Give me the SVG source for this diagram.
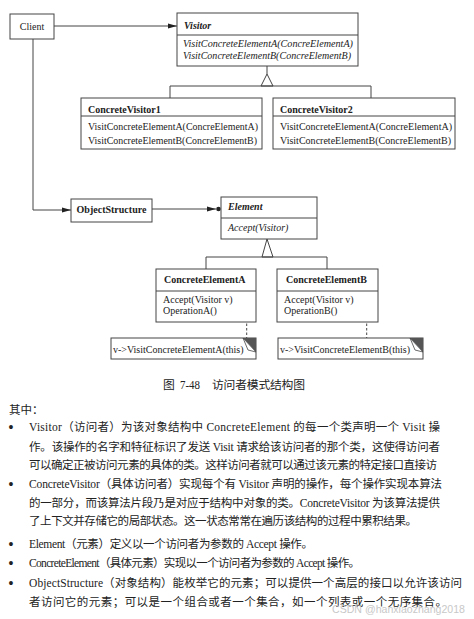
<svg xmlns="http://www.w3.org/2000/svg" width="474" height="619" viewBox="0 0 474 619">
<style>
.box{fill:#fff;stroke:#444;stroke-width:1}
.ln{fill:none;stroke:#444;stroke-width:1}
.t{font-family:"Liberation Serif","Times New Roman",serif;font-size:10px;fill:#222}
.b{font-weight:bold}
.i{font-style:italic}
.body{font-family:"Liberation Serif","Noto Sans CJK SC",serif;font-size:11.5px;fill:#222}
.bul{font-family:"Liberation Serif",serif;font-size:14px;font-weight:bold;fill:#222}
.cap{font-family:"Liberation Serif","Noto Sans CJK SC",serif;font-size:11.8px;fill:#222}
</style>
<defs>
<marker id="arr" markerUnits="userSpaceOnUse" markerWidth="9" markerHeight="6" refX="9" refY="3" orient="auto">
<path d="M0,0.5 L9,3 L0,5.5 Z" fill="#222"/>
</marker>
</defs>
<rect width="474" height="619" fill="#fff"/>
<g id="connectors">
<path class="ln" d="M54,26 H177" marker-end="url(#arr)"/>
<path class="ln" d="M33,39 V210 H71" marker-end="url(#arr)"/>
<path class="ln" d="M152,209 H216" marker-end="url(#arr)"/>
<circle cx="218.5" cy="209" r="2.3" fill="#222"/>
<path class="ln" d="M267,66 V74"/>
<path class="ln" d="M267,74 L261,86 L273,86 Z" fill="#fff"/>
<path class="ln" d="M170,98 V86 H371 V98"/>
<path class="ln" d="M267,239 L262,257 L273,257 Z" fill="#fff"/>
<path class="ln" d="M206,269 V257 H327 V269"/>
<circle cx="246.7" cy="299" r="2" fill="#fff" stroke="#444"/>
<path class="ln" d="M246.7,301 V338" stroke-dasharray="2.5,2"/>
<circle cx="366.7" cy="299" r="2" fill="#fff" stroke="#444"/>
<path class="ln" d="M366.7,301 V338" stroke-dasharray="2.5,2"/>
</g>
<g id="client">
<rect class="box" x="10" y="14" width="44" height="25"/>
<text class="t" x="32" y="29.5" text-anchor="middle">Client</text>
</g>
<g id="visitor">
<rect class="box" x="177" y="13" width="181" height="53"/>
<path class="ln" d="M177,35 H358"/>
<text class="t b i" x="184" y="28.5">Visitor</text>
<text class="t i" x="183" y="47" textLength="170" lengthAdjust="spacingAndGlyphs">VisitConcreteElementA(ConcreElementA)</text>
<text class="t i" x="183" y="58.5" textLength="168" lengthAdjust="spacingAndGlyphs">VisitConcreteElementB(ConcreElementB)</text>
</g>
<g id="concretevisitor1">
<rect class="box" x="81" y="98" width="181" height="51"/>
<path class="ln" d="M81,116 H262"/>
<text class="t b" x="88" y="112.5">ConcreteVisitor1</text>
<text class="t" x="88" y="129.5" textLength="170" lengthAdjust="spacingAndGlyphs">VisitConcreteElementA(ConcreElementA)</text>
<text class="t" x="88" y="143.5" textLength="169" lengthAdjust="spacingAndGlyphs">VisitConcreteElementB(ConcreElementB)</text>
</g>
<g id="concretevisitor2">
<rect class="box" x="273" y="98" width="182" height="51"/>
<path class="ln" d="M273,116 H455"/>
<text class="t b" x="280" y="112.5">ConcreteVisitor2</text>
<text class="t" x="280" y="129.5" textLength="172" lengthAdjust="spacingAndGlyphs">VisitConcreteElementA(ConcreElementA)</text>
<text class="t" x="280" y="143.5" textLength="171" lengthAdjust="spacingAndGlyphs">VisitConcreteElementB(ConcreElementB)</text>
</g>
<g id="objectstructure">
<rect class="box" x="71" y="199" width="81" height="23"/>
<text class="t b" x="111.5" y="212.5" text-anchor="middle">ObjectStructure</text>
</g>
<g id="element">
<rect class="box" x="221" y="197" width="96" height="42"/>
<path class="ln" d="M221,218 H317"/>
<text class="t b i" x="228" y="209.5">Element</text>
<text class="t i" x="228" y="230.5">Accept(Visitor)</text>
</g>
<g id="concreteelementa">
<rect class="box" x="156" y="269" width="100" height="53"/>
<path class="ln" d="M156,291 H256"/>
<text class="t b" x="164" y="283">ConcreteElementA</text>
<text class="t" x="163" y="302.5">Accept(Visitor v)</text>
<text class="t" x="163" y="314">OperationA()</text>
</g>
<g id="concreteelementb">
<rect class="box" x="277" y="269" width="101" height="53"/>
<path class="ln" d="M277,291 H378"/>
<text class="t b" x="286" y="283">ConcreteElementB</text>
<text class="t" x="284" y="302.5">Accept(Visitor v)</text>
<text class="t" x="284" y="314">OperationB()</text>
</g>
<g id="notea">
<rect class="box" x="111" y="338" width="145" height="21"/>
<path d="M243,338 H256 V352 Z" fill="#555"/>
<path d="M243,338 L256,352 L248,350 Z" fill="#fff" stroke="#444" stroke-width="0.8"/>
<text class="t" x="113" y="352.5">v-&gt;VisitConcreteElementA(this)</text>
</g>
<g id="noteb">
<rect class="box" x="278" y="338" width="145" height="21"/>
<path d="M410,338 H423 V352 Z" fill="#555"/>
<path d="M410,338 L423,352 L415,350 Z" fill="#fff" stroke="#444" stroke-width="0.8"/>
<text class="t" x="280" y="352.5">v-&gt;VisitConcreteElementB(this)</text>
</g>
<g id="caption">
<text class="cap" x="163" y="389">图</text>
<text class="cap" x="180" y="389" textLength="20" lengthAdjust="spacingAndGlyphs">7-48</text>
<text class="cap" x="212" y="389" textLength="93" lengthAdjust="spacing">访问者模式结构图</text>
</g>
<g id="text">
<text class="body" x="9" y="414">其中：</text>
<text class="bul" x="8.5" y="432">•</text>
<text class="body" x="29" y="431" textLength="411" lengthAdjust="spacing">Visitor（访问者）为该对象结构中 ConcreteElement 的每一个类声明一个 Visit 操</text>
<text class="body" x="29" y="451" textLength="411" lengthAdjust="spacing">作。该操作的名字和特征标识了发送 Visit 请求给该访问者的那个类，这使得访问者</text>
<text class="body" x="29" y="469" textLength="408" lengthAdjust="spacing">可以确定正被访问元素的具体的类。这样访问者就可以通过该元素的特定接口直接访</text>
<text class="bul" x="8.5" y="489">•</text>
<text class="body" x="29" y="488" textLength="413" lengthAdjust="spacing">ConcreteVisitor（具体访问者）实现每个有 Visitor 声明的操作，每个操作实现本算法</text>
<text class="body" x="29" y="507" textLength="411" lengthAdjust="spacing">的一部分，而该算法片段乃是对应于结构中对象的类。ConcreteVisitor 为该算法提供</text>
<text class="body" x="29" y="525" textLength="388" lengthAdjust="spacing">了上下文并存储它的局部状态。这一状态常常在遍历该结构的过程中累积结果。</text>
<text class="bul" x="8.5" y="549">•</text>
<text class="body" x="29" y="548" textLength="284" lengthAdjust="spacing">Element（元素）定义以一个访问者为参数的 Accept 操作。</text>
<text class="bul" x="8.5" y="568">•</text>
<text class="body" x="29" y="567" textLength="331" lengthAdjust="spacing">ConcreteElement（具体元素）实现以一个访问者为参数的 Accept 操作。</text>
<text class="bul" x="8.5" y="588">•</text>
<text class="body" x="29" y="587" textLength="433" lengthAdjust="spacing">ObjectStructure（对象结构）能枚举它的元素；可以提供一个高层的接口以允许该访问</text>
<text class="body" x="29" y="606" textLength="418" lengthAdjust="spacing">者访问它的元素；可以是一个组合或者一个集合，如一个列表或一个无序集合。</text>
<text x="332" y="613" font-family="Liberation Sans, sans-serif" font-size="11" fill="#c8c8c8" textLength="133" lengthAdjust="spacingAndGlyphs">CSDN @hanxiaozhang2018</text>
</g>
</svg>
